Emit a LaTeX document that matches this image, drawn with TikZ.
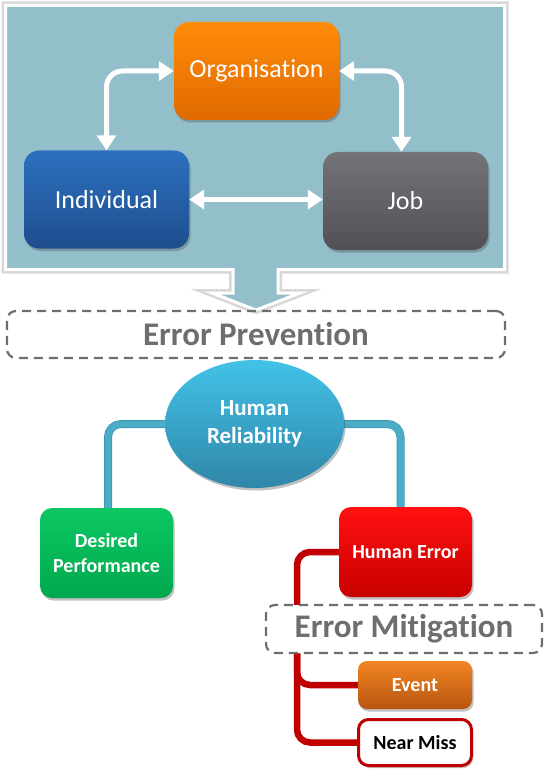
\documentclass[tikz,border=0pt]{standalone}
\usepackage{fontspec}
\setmainfont{Carlito}[Ligatures=NoCommon]
\usetikzlibrary{shapes.geometric,shadows,arrows.meta,backgrounds,calc}
\definecolor{panel}{HTML}{93BFCB}
\definecolor{orgtop}{HTML}{FF8C0A}
\definecolor{orgbot}{HTML}{E06A00}
\definecolor{indtop}{HTML}{2D70BE}
\definecolor{indbot}{HTML}{1E4E8E}
\definecolor{jobtop}{HTML}{737378}
\definecolor{jobbot}{HTML}{505055}
\definecolor{labgray}{HTML}{6D6E71}
\definecolor{elltop}{HTML}{42C2E8}
\definecolor{ellbot}{HTML}{2F86A8}
\definecolor{tealline}{HTML}{4BACC8}
\definecolor{tealedge}{HTML}{3A94B2}
\definecolor{greentop}{HTML}{0CC862}
\definecolor{greenbot}{HTML}{00A84E}
\definecolor{redtop}{HTML}{FF1010}
\definecolor{redbot}{HTML}{C80000}
\definecolor{evtop}{HTML}{F28422}
\definecolor{evbot}{HTML}{B85610}
\definecolor{darkred}{HTML}{C00000}
\tikzset{
  shad/.style={drop shadow={shadow xshift=1.5pt,shadow yshift=-2.5pt,opacity=0.35,fill=black!70}},
  bigbox/.style={rounded corners=15pt, minimum width=165pt, minimum height=98pt, inner sep=0pt,
     text=white, font=\fontsize{26}{30}\selectfont, shad},
  smallbox/.style={rounded corners=12pt, inner sep=0pt, text=white, align=center,
     font=\bfseries\fontsize{20}{25}\selectfont, shad},
  dashbox/.style={draw=labgray, line width=2.2pt, dash pattern=on 9pt off 6pt, rounded corners=9pt,
     fill=white, inner sep=0pt, text=labgray, font=\bfseries\fontsize{33}{36}\selectfont},
  whitearrow/.style={draw=white, line width=5pt, rounded corners=16pt,
     {Triangle[length=15pt,width=19pt]}-{Triangle[length=15pt,width=19pt]}},
  tealconn/.style={draw=tealline, line width=6.5pt, rounded corners=13pt,
     preaction={draw=tealedge, line width=8pt}},
  redconn/.style={draw=darkred, line width=6.5pt, rounded corners=13pt},
  calloutpath/.style={line join=miter},
}
\begin{document}
\begin{tikzpicture}[x=1pt,y=-1pt]
\useasboundingbox (0,0) rectangle (545,770);
% callout panel: halo, then white frame with teal fill
\def\callout{(5.5,5.5) -- (504.5,5.5) -- (504.5,269.5) -- (278,269.5) -- (278,293) -- (300,293)
  -- (256,310) -- (212,293) -- (233,293) -- (233,269.5) -- (5.5,269.5) -- cycle}
\draw[calloutpath, black!35, opacity=0.45, line width=8pt] \callout;
\draw[calloutpath, white, line width=3pt, fill=panel] \callout;

% top boxes
\node[bigbox, top color=orgtop, bottom color=orgbot] (org) at (256.5,71) {Organisation};
\node[bigbox, top color=indtop, bottom color=indbot] (ind) at (106.5,199.5) {Individual};
\node[bigbox, top color=jobtop, bottom color=jobbot] (job) at (405.5,201) {Job};

\draw[whitearrow] (org.west) -| (ind.north);
\draw[whitearrow] (org.east) -| ([xshift=-4pt]job.north);
\draw[whitearrow] (ind.east) -- (ind.east -| job.west);

% error prevention
\node[dashbox, fill=none, minimum width=498pt, minimum height=47pt] (ep) at (256,334.5) {Error Prevention};

% human reliability
\node[ellipse, top color=elltop, bottom color=ellbot,
      minimum width=179pt, minimum height=128pt, inner sep=0pt, text=white, align=center,
      font=\bfseries\fontsize{23}{28}\selectfont, shad] (hr) at (254.5,424) {Human\\Reliability};

\node[smallbox, top color=greentop, bottom color=greenbot, minimum width=133pt, minimum height=90pt]
  (dp) at (106.5,553) {Desired\\Performance};
\node[smallbox, top color=redtop, bottom color=redbot, minimum width=133pt, minimum height=90pt]
  (he) at (405.5,552) {Human Error};

\node[dashbox, minimum width=276pt, minimum height=48pt] (em) at (404,629) {Error Mitigation};

\node[smallbox, rounded corners=9pt, top color=evtop, bottom color=evbot, minimum width=114pt, minimum height=48pt]
  (ev) at (415,685) {Event};
\node[smallbox, rounded corners=10pt, fill=white, draw=darkred, line width=3pt, text=black,
      minimum width=113pt, minimum height=46pt] (nm) at (415,742.5) {Near Miss};

\coordinate (rx) at (297,700);

\begin{scope}[on background layer]
  \draw[tealconn] (hr.west) -| ([xshift=1.5pt]dp.north);
  \draw[tealconn] (hr.east) -| ([xshift=-5pt]he.north);
  \draw[redconn] (he.west) -| (rx |- nm.west) -- (nm.west);
  \draw[redconn] (rx |- em.south) |- (ev.west);
\end{scope}
\end{tikzpicture}
\end{document}
